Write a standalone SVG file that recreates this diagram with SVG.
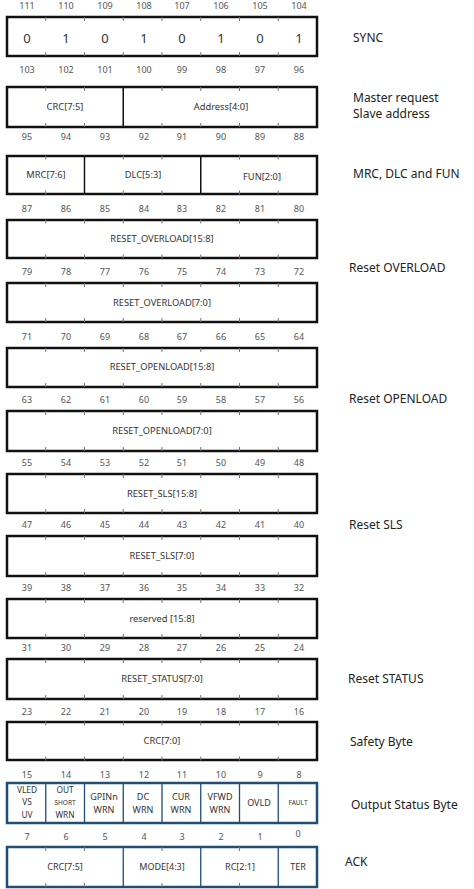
<svg xmlns="http://www.w3.org/2000/svg" width="474" height="889" viewBox="0 0 474 889">
<style>
text{font-family:"Noto Sans","Open Sans","Liberation Sans",sans-serif;}
.num{font-size:9px;fill:#555;text-anchor:middle;}
.cell{font-size:9.3px;fill:#333;text-anchor:middle;}
.big{font-size:13px;fill:#333;text-anchor:middle;}
.lbl{font-size:12px;fill:#222;}
.box{fill:#fff;stroke:#111;stroke-width:2.5;}
.bbox{fill:#fff;stroke:#1f4e79;stroke-width:2.5;}
.div{stroke:#111;stroke-width:1.5;}
.bdiv{stroke:#1f4e79;stroke-width:1.3;}
.tick{stroke:#777;stroke-width:1;}
.os{font-size:9px;fill:#333;text-anchor:middle;}
.os3{font-size:8.3px;fill:#333;text-anchor:middle;}
.sm{font-size:6.5px;fill:#333;text-anchor:middle;}
</style>
<defs>
<g id="ticks39"><path class="tick" d="M45.75,0v4M84.5,0v4M123.25,0v4M162,0v4M200.75,0v4M239.5,0v4M278.25,0v4M45.75,39v-4M84.5,39v-4M123.25,39v-4M162,39v-4M200.75,39v-4M239.5,39v-4M278.25,39v-4"/></g>
<g id="ticks40"><path class="tick" d="M45.75,0v4M84.5,0v4M123.25,0v4M162,0v4M200.75,0v4M239.5,0v4M278.25,0v4M45.75,40v-4M84.5,40v-4M123.25,40v-4M162,40v-4M200.75,40v-4M239.5,40v-4M278.25,40v-4"/></g>
</defs>

<g id="row-sync">
<g class="num"><text x="27" y="9">111</text><text x="66" y="9">110</text><text x="105" y="9">109</text><text x="144" y="9">108</text><text x="182" y="9">107</text><text x="221" y="9">106</text><text x="260" y="9">105</text><text x="299" y="9">104</text></g>
<rect class="box" x="7" y="17" width="310" height="39"/>
<use href="#ticks39" y="17"/>
<g class="big"><text x="27" y="43">0</text><text x="66" y="43">1</text><text x="105" y="43">0</text><text x="144" y="43">1</text><text x="182" y="43">0</text><text x="221" y="43">1</text><text x="260" y="43">0</text><text x="299" y="43">1</text></g>
</g>

<g id="row-address">
<g class="num"><text x="27" y="73">103</text><text x="66" y="73">102</text><text x="105" y="73">101</text><text x="144" y="73">100</text><text x="182" y="73">99</text><text x="221" y="73">98</text><text x="260" y="73">97</text><text x="299" y="73">96</text></g>
<rect class="box" x="7" y="87" width="310" height="40"/>
<use href="#ticks40" y="87"/>
<line class="div" x1="123.25" y1="87" x2="123.25" y2="127"/>
<text class="cell" x="65" y="110">CRC[7:5]</text>
<text class="cell" x="221" y="110">Address[4:0]</text>
</g>

<g id="row-mrc">
<g class="num"><text x="27" y="140">95</text><text x="66" y="140">94</text><text x="105" y="140">93</text><text x="144" y="140">92</text><text x="182" y="140">91</text><text x="221" y="140">90</text><text x="260" y="140">89</text><text x="299" y="140">88</text></g>
<rect class="box" x="7" y="156" width="310" height="38"/>
<use href="#ticks39" y="155.5"/>
<line class="div" x1="84.5" y1="156" x2="84.5" y2="194"/>
<line class="div" x1="200.75" y1="156" x2="200.75" y2="194"/>
<text class="cell" x="46" y="178">MRC[7:6]</text>
<text class="cell" x="143" y="178">DLC[5:3]</text>
<text class="cell" x="262" y="180">FUN[2:0]</text>
</g>

<g id="row-ovl-h">
<g class="num"><text x="27" y="212">87</text><text x="66" y="212">86</text><text x="105" y="212">85</text><text x="144" y="212">84</text><text x="182" y="212">83</text><text x="221" y="212">82</text><text x="260" y="212">81</text><text x="299" y="212">80</text></g>
<rect class="box" x="7" y="220" width="310" height="38"/>
<use href="#ticks39" y="219.5"/>
<text class="cell" x="162" y="242">RESET_OVERLOAD[15:8]</text>
</g>

<g id="row-ovl-l">
<g class="num"><text x="27" y="275">79</text><text x="66" y="275">78</text><text x="105" y="275">77</text><text x="144" y="275">76</text><text x="182" y="275">75</text><text x="221" y="275">74</text><text x="260" y="275">73</text><text x="299" y="275">72</text></g>
<rect class="box" x="7" y="283" width="310" height="39"/>
<use href="#ticks39" y="283"/>
<text class="cell" x="162" y="306">RESET_OVERLOAD[7:0]</text>
</g>

<g id="row-opl-h">
<g class="num"><text x="27" y="340">71</text><text x="66" y="340">70</text><text x="105" y="340">69</text><text x="144" y="340">68</text><text x="182" y="340">67</text><text x="221" y="340">66</text><text x="260" y="340">65</text><text x="299" y="340">64</text></g>
<rect class="box" x="7" y="348" width="310" height="39"/>
<use href="#ticks39" y="348"/>
<text class="cell" x="162" y="370">RESET_OPENLOAD[15:8]</text>
</g>

<g id="row-opl-l">
<g class="num"><text x="27" y="403">63</text><text x="66" y="403">62</text><text x="105" y="403">61</text><text x="144" y="403">60</text><text x="182" y="403">59</text><text x="221" y="403">58</text><text x="260" y="403">57</text><text x="299" y="403">56</text></g>
<rect class="box" x="7" y="411" width="310" height="40"/>
<use href="#ticks40" y="411"/>
<text class="cell" x="162" y="434">RESET_OPENLOAD[7:0]</text>
</g>

<g id="row-sls-h">
<g class="num"><text x="27" y="466">55</text><text x="66" y="466">54</text><text x="105" y="466">53</text><text x="144" y="466">52</text><text x="182" y="466">51</text><text x="221" y="466">50</text><text x="260" y="466">49</text><text x="299" y="466">48</text></g>
<rect class="box" x="7" y="474" width="310" height="39"/>
<use href="#ticks39" y="474"/>
<text class="cell" x="162" y="497">RESET_SLS[15:8]</text>
</g>

<g id="row-sls-l">
<g class="num"><text x="27" y="528">47</text><text x="66" y="528">46</text><text x="105" y="528">45</text><text x="144" y="528">44</text><text x="182" y="528">43</text><text x="221" y="528">42</text><text x="260" y="528">41</text><text x="299" y="528">40</text></g>
<rect class="box" x="7" y="536" width="310" height="40"/>
<use href="#ticks40" y="536"/>
<text class="cell" x="162" y="559">RESET_SLS[7:0]</text>
</g>

<g id="row-reserved">
<g class="num"><text x="27" y="591">39</text><text x="66" y="591">38</text><text x="105" y="591">37</text><text x="144" y="591">36</text><text x="182" y="591">35</text><text x="221" y="591">34</text><text x="260" y="591">33</text><text x="299" y="591">32</text></g>
<rect class="box" x="7" y="599" width="310" height="39"/>
<use href="#ticks39" y="599"/>
<text class="cell" x="162" y="622">reserved [15:8]</text>
</g>

<g id="row-status">
<g class="num"><text x="27" y="651">31</text><text x="66" y="651">30</text><text x="105" y="651">29</text><text x="144" y="651">28</text><text x="182" y="651">27</text><text x="221" y="651">26</text><text x="260" y="651">25</text><text x="299" y="651">24</text></g>
<rect class="box" x="7" y="659" width="310" height="40"/>
<use href="#ticks40" y="659"/>
<text class="cell" x="162" y="682">RESET_STATUS[7:0]</text>
</g>

<g id="row-crc">
<g class="num"><text x="27" y="715">23</text><text x="66" y="715">22</text><text x="105" y="715">21</text><text x="144" y="715">20</text><text x="182" y="715">19</text><text x="221" y="715">18</text><text x="260" y="715">17</text><text x="299" y="715">16</text></g>
<rect class="box" x="7" y="722" width="310" height="38"/>
<use href="#ticks39" y="721.5"/>
<text class="cell" x="162" y="744">CRC[7:0]</text>
</g>

<g id="row-outstatus">
<g class="num"><text x="27" y="778">15</text><text x="66" y="778">14</text><text x="105" y="778">13</text><text x="144" y="778">12</text><text x="182" y="778">11</text><text x="221" y="778">10</text><text x="260" y="778">9</text><text x="299" y="778">8</text></g>
<rect class="bbox" x="7" y="783" width="310" height="40"/>
<path class="bdiv" d="M45.75,783v40M84.5,783v40M123.25,783v40M162,783v40M200.75,783v40M239.5,783v40M278.25,783v40"/>
<text class="os3" x="27" y="793">VLED</text><text class="os3" x="27" y="805">VS</text><text class="os3" x="27" y="817.5">UV</text>
<text class="os3" x="65" y="793">OUT</text><text class="sm" x="65" y="805">SHORT</text><text class="os3" x="65" y="817.5">WRN</text>
<text class="os" x="104" y="800">GPINn</text><text class="os" x="104" y="812.5">WRN</text>
<text class="os" x="143" y="800">DC</text><text class="os" x="143" y="812.5">WRN</text>
<text class="os" x="181" y="800">CUR</text><text class="os" x="181" y="812.5">WRN</text>
<text class="os" x="220" y="800">VFWD</text><text class="os" x="220" y="812.5">WRN</text>
<text class="os" x="259" y="806">OVLD</text>
<text class="sm" x="298" y="805">FAULT</text>
</g>

<g id="row-ack">
<g class="num"><text x="27" y="840">7</text><text x="66" y="840">6</text><text x="105" y="840">5</text><text x="144" y="840">4</text><text x="182" y="840">3</text><text x="221" y="840">2</text><text x="260" y="840">1</text><text x="298" y="837">0</text></g>
<rect class="bbox" x="7" y="847" width="310" height="40"/>
<path class="bdiv" d="M123.25,847v40M200.75,847v40M278.25,847v40"/>
<path class="tick" d="M45.75,847v4M84.5,847v4M162,847v4M239.5,847v4M45.75,887v-4M84.5,887v-4M162,887v-4M239.5,887v-4"/>
<text class="os" x="65" y="870">CRC[7:5]</text>
<text class="os" x="162" y="870">MODE[4:3]</text>
<text class="os" x="240" y="870">RC[2:1]</text>
<text class="os" x="298" y="870">TER</text>
</g>

<g id="labels" class="lbl">
<text x="353" y="42">SYNC</text>
<text x="353" y="102">Master request</text>
<text x="353" y="118">Slave address</text>
<text x="353" y="178">MRC, DLC and FUN</text>
<text x="349" y="272">Reset OVERLOAD</text>
<text x="349" y="403">Reset OPENLOAD</text>
<text x="349" y="529">Reset SLS</text>
<text x="348" y="683">Reset STATUS</text>
<text x="350" y="746">Safety Byte</text>
<text x="351" y="809">Output Status Byte</text>
<text x="345" y="866">ACK</text>
</g>
<g id="connectors"/>
</svg>
